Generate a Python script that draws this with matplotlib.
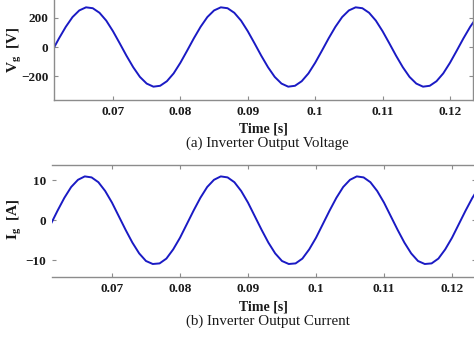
import matplotlib
matplotlib.use("Agg")
import matplotlib.pyplot as plt

time_s = [0.061, 0.062, 0.063, 0.064, 0.065, 0.066, 0.067, 0.068, 0.069, 0.070,
          0.071, 0.072, 0.073, 0.074, 0.075, 0.076, 0.077, 0.078, 0.079, 0.080,
          0.081, 0.082, 0.083, 0.084, 0.085, 0.086, 0.087, 0.088, 0.089, 0.090,
          0.091, 0.092, 0.093, 0.094, 0.095, 0.096, 0.097, 0.098, 0.099, 0.100,
          0.101, 0.102, 0.103, 0.104, 0.105, 0.106, 0.107, 0.108, 0.109, 0.110,
          0.111, 0.112, 0.113, 0.114, 0.115, 0.116, 0.117, 0.118, 0.119, 0.120,
          0.121, 0.122, 0.123, 0.124]

voltage_v = [-25, 59, 137, 203, 248, 269, 263, 232, 179, 107,
             25, -59, -137, -203, -248, -269, -263, -232, -179, -107,
             -25, 59, 137, 203, 248, 269, 263, 232, 179, 107,
             25, -59, -137, -203, -248, -269, -263, -232, -179, -107,
             -25, 59, 137, 203, 248, 269, 263, 232, 179, 107,
             25, -59, -137, -203, -248, -269, -263, -232, -179, -107,
             -25, 59, 137, 203]

current_a = [-1.0, 2.4, 5.6, 8.3, 10.1, 10.95, 10.7, 9.5, 7.3, 4.4,
             1.0, -2.4, -5.6, -8.3, -10.2, -10.95, -10.8, -9.6, -7.3, -4.4,
             -1.0, 2.4, 5.6, 8.3, 10.1, 10.95, 10.7, 9.5, 7.3, 4.4,
             1.0, -2.4, -5.6, -8.3, -10.2, -10.95, -10.8, -9.6, -7.3, -4.4,
             -1.0, 2.4, 5.6, 8.3, 10.1, 10.95, 10.7, 9.5, 7.3, 4.4,
             1.0, -2.4, -5.6, -8.3, -10.2, -10.95, -10.8, -9.6, -7.3, -4.4,
             -1.0, 2.4, 5.6, 8.3]

x_ticks = [0.07, 0.08, 0.09, 0.10, 0.11, 0.12]
x_tick_labels = ["0.07", "0.08", "0.09", "0.1", "0.11", "0.12"]
v_ticks = [-200, 0, 200]
i_ticks = [-10, 0, 10]

plt.rcParams['font.family'] = ['Liberation Serif', 'DejaVu Serif']
plt.rcParams['mathtext.fontset'] = 'custom'
plt.rcParams['mathtext.rm'] = 'Liberation Serif:bold'
plt.rcParams['mathtext.bf'] = 'Liberation Serif:bold'
plt.rcParams['mathtext.it'] = 'Liberation Serif:bold'

W, H = 474, 345
fig = plt.figure(figsize=(W / 100, H / 100), dpi=100)
fig.patch.set_facecolor('white')

def rect(l, t, r, b):
    return [l / W, 1 - b / H, (r - l) / W, (b - t) / H]

def fx(x):
    return x / W

def fy(y):
    return 1 - y / H

LINE = '#1a1ac4'
SPINE = '#8c8c8c'
TXT = '#1a1a1a'

def style(ax, spines_on):
    for s in ['left', 'right', 'top', 'bottom']:
        ax.spines[s].set_visible(s in spines_on)
        ax.spines[s].set_color(SPINE)
        ax.spines[s].set_linewidth(1.0)
    ax.tick_params(direction='in', length=3, width=0.8, color=SPINE,
                   top=True, right=True, labelsize=9.5, labelcolor=TXT)
    ax.tick_params(axis='x', pad=4.5)
    ax.tick_params(axis='y', pad=4)
    for lab in ax.get_xticklabels() + ax.get_yticklabels():
        lab.set_fontweight('bold')

# ---- top: voltage ----
ax1 = fig.add_axes(rect(54, -5.5, 472.5, 99.5))
ax1.plot(time_s, voltage_v, color=LINE, lw=1.4)
ax1.set_xlim(0.06125, 0.12334)
ax1.set_ylim(-356, 356)
ax1.set_xticks(x_ticks)
ax1.set_xticklabels(x_tick_labels)
ax1.set_yticks(v_ticks)
style(ax1, ['left', 'right', 'bottom'])

# ---- bottom: current ----
ax2 = fig.add_axes(rect(52, 165, 476, 277))
ax2.plot(time_s, current_a, color=LINE, lw=1.4)
ax2.set_xlim(0.06118, 0.12353)
ax2.set_ylim(-14.2, 13.8)
ax2.set_xticks(x_ticks)
ax2.set_xticklabels(x_tick_labels)
ax2.set_yticks(i_ticks)
style(ax2, ['top', 'bottom'])

# ---- labels ----
fig.text(fx(263), fy(129), 'Time [s]', ha='center', va='center',
         fontsize=10, fontweight='bold', color=TXT)
fig.text(fx(267), fy(143.5), '(a) Inverter Output Voltage', ha='center', va='center',
         fontsize=10.8, color=TXT)
fig.text(fx(263), fy(307), 'Time [s]', ha='center', va='center',
         fontsize=10, fontweight='bold', color=TXT)
fig.text(fx(268), fy(321.5), '(b) Inverter Output Current', ha='center', va='center',
         fontsize=10.8, color=TXT)

fig.text(fx(15), fy(50), r'$\mathrm{V_g}$  [V]', rotation=90, ha='center', va='center',
         fontsize=11, fontweight='bold', color=TXT)
fig.text(fx(15), fy(219), r'$\mathrm{I_g}$  [A]', rotation=90, ha='center', va='center',
         fontsize=11, fontweight='bold', color=TXT)

fig.savefig('out.png', dpi=100, facecolor='white')
